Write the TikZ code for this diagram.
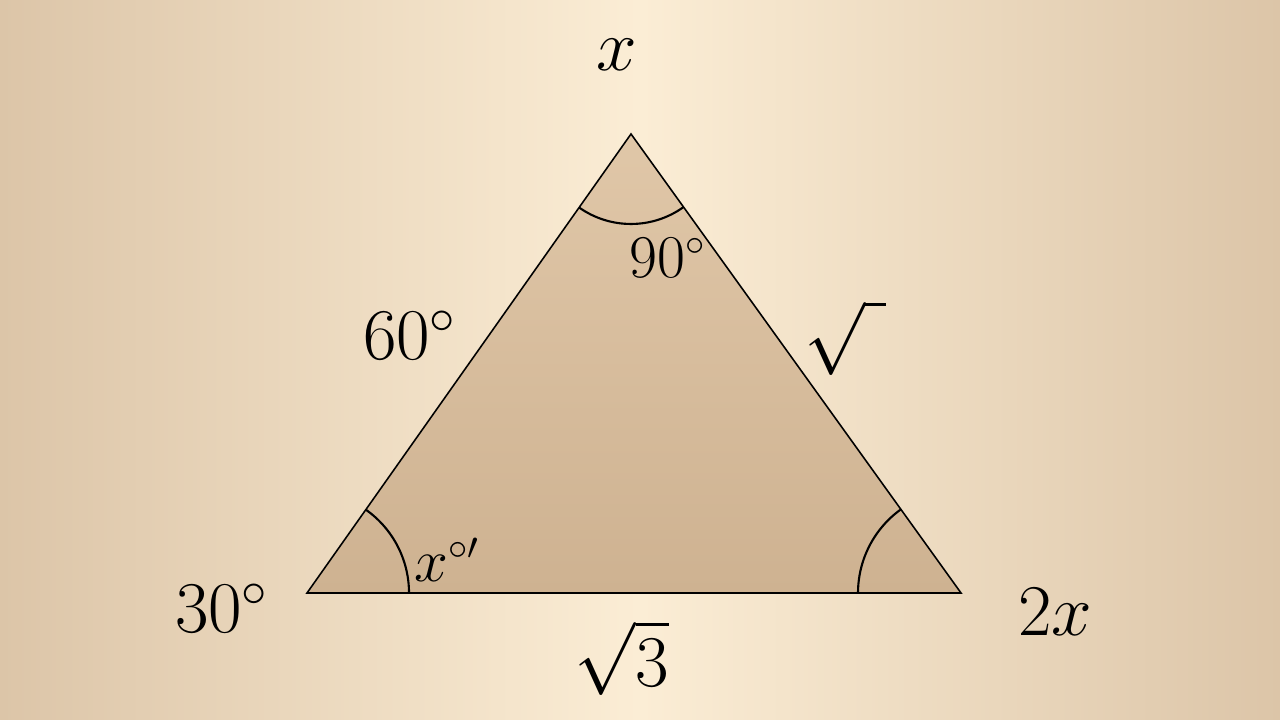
\documentclass[tikz,border=0pt]{standalone}
\usepackage{amsmath, amssymb}
\usetikzlibrary{positioning, angles}

\definecolor{paperlight}{RGB}{251,237,213}
\definecolor{paperedge}{RGB}{220,197,168}
\definecolor{tantop}{RGB}{224,199,168}
\definecolor{tanbottom}{RGB}{206,178,145}

\begin{document}
\begin{tikzpicture}[
  lbl/.style={font=\fontsize{20}{24}\selectfont},
  smalllbl/.style={font=\fontsize{16}{19}\selectfont},
  anglearc/.style={draw, line width=0.6pt},
  edge/.style={line width=0.45pt}]

% background
\shade[left color=paperedge, right color=paperedge, middle color=paperlight] (0,0) rectangle (12.8,7.2);
\useasboundingbox (0,0) rectangle (12.8,7.2);

\coordinate (left) at (3.07,1.27);
\coordinate (apex) at (6.31,5.86);
\coordinate (right) at (9.61,1.27);

\shade[top color=tantop, bottom color=tanbottom] (left) -- (apex) -- (right) -- cycle;
\draw[edge] (left) -- (apex) -- (right) -- cycle;

\pic[anglearc, angle radius=0.9cm] {angle = left--apex--right};
\pic[anglearc, angle radius=1.02cm] {angle = right--left--apex};
\pic[anglearc, angle radius=1.03cm] {angle = apex--right--left};

\node (topx) [lbl] at (6.17,6.65) {$x$};
\node (sixty) [lbl] at (4.10,3.85) {$60^\circ$};
\node (root) [lbl] at (8.45,3.82) {$\sqrt{\;}$};
\node (ninety) [smalllbl] at (6.68,4.62) {$90^\circ$};
\node (xdeg) [smalllbl] at (4.47,1.60) {$x^{\circ\prime}$};
\node (thirty) [lbl] at (2.22,1.12) {$30^\circ$};
\node (twox) [lbl] at (10.55,1.08) {$2x$};
\node (rootthree) [lbl] at (6.22,0.62) {$\sqrt{3}$};

\end{tikzpicture}
\end{document}
